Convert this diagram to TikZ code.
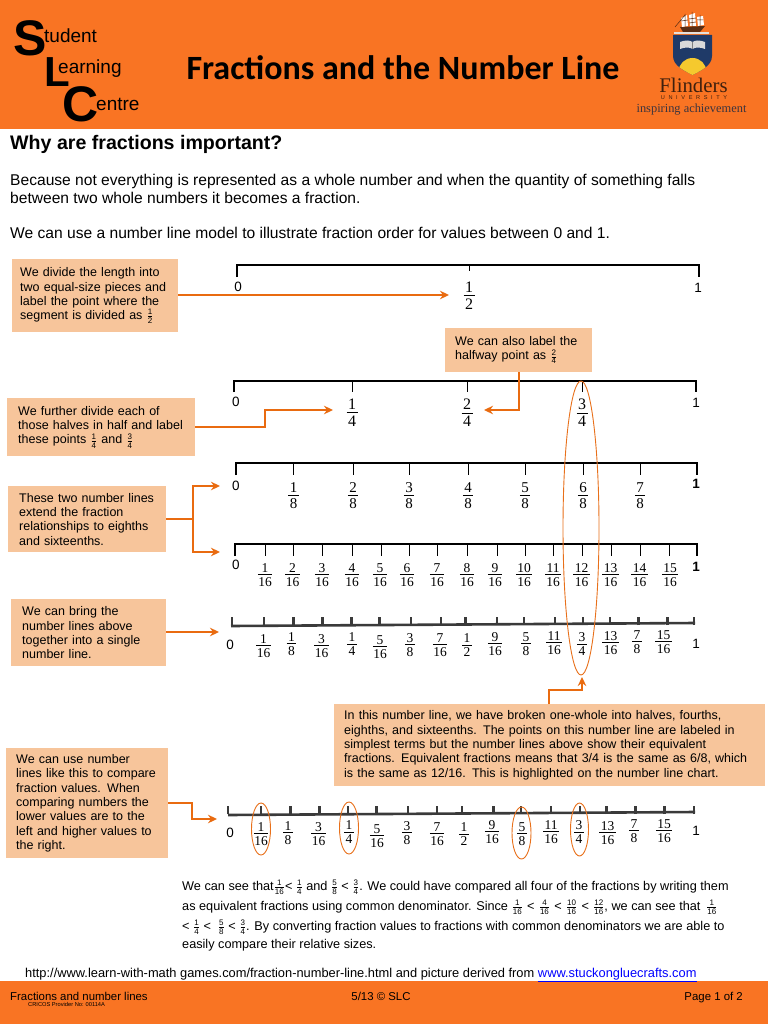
\documentclass[tikz,border=0pt]{standalone}
\usepackage{fontspec}
\usepackage{amsmath}
\setmainfont{Liberation Sans}
\newfontfamily\titlefont{Carlito}
\newfontfamily\crestfont{Liberation Serif}
\usetikzlibrary{arrows.meta,positioning,calc}
\definecolor{slcorange}{HTML}{F97423}
\definecolor{peach}{HTML}{F7C59B}
\definecolor{arroworange}{HTML}{E96B10}
\definecolor{ringorange}{HTML}{E8701A}
\definecolor{crestnavy}{HTML}{1F3A68}
\definecolor{crestgold}{HTML}{F5C92E}
\definecolor{crestbrown}{HTML}{5A2E14}
\definecolor{bk80}{HTML}{3A3A3A}
\newcommand{\frc}[2]{$\genfrac{}{}{0.7pt}{1}{\rule[-0.12em]{0pt}{0.7em}\hbox{\crestfont\kern1.5pt#1\kern1.5pt}}{\rule{0pt}{0.8em}\hbox{\crestfont\kern0.5pt#2\kern0.5pt}}$}
\newcommand{\sfr}[2]{$\genfrac{}{}{0.45pt}{1}{\hbox{\fontsize{8}{8}\selectfont#1}}{\hbox{\fontsize{8}{8}\selectfont#2}}$}
\tikzset{
  infobox/.style={
    rectangle, fill=peach, anchor=north west,
    inner xsep=8pt, inner ysep=2pt, align=left,
    font=\fontsize{12.5}{14.3}\selectfont
  },
  linkarrow/.style={
    -{Stealth[length=9pt,width=8.5pt]}, line width=2.6pt, color=arroworange
  },
  linkplain/.style={line width=2.6pt, color=arroworange},
  numline/.style={line width=#1, color=black},
  numline/.default=1.6pt,
  tickmark/.style={line width=0.9pt, color=black},
  heavyline/.style={line width=2.6pt, color=bk80},
  heavytick/.style={line width=2.2pt, color=bk80},
  fraclabel/.style={inner sep=0pt, font=\fontsize{#1}{#1}\selectfont},
  fraclabel/.default=13.5,
  endlabel/.style={inner sep=0pt, font=\fontsize{13.5}{13.5}\selectfont},
  bodytext/.style={inner sep=0pt, anchor=west, font=\fontsize{15.6}{18}\selectfont, align=left},
  notetext/.style={inner sep=0pt, anchor=west, font=\fontsize{12.7}{14}\selectfont},
  foottext/.style={inner sep=0pt, font=\fontsize{11.4}{13}\selectfont},
  slcbig/.style={inner sep=0pt, anchor=base west, font=\fontsize{#1}{#1}\selectfont\bfseries},
  slcsmall/.style={inner sep=0pt, anchor=base west, font=\fontsize{19}{20}\selectfont},
}
\begin{document}
\begin{tikzpicture}[x=1pt, y=-1pt]
  \useasboundingbox (0,0) rectangle (768,1024);
  \fill[white] (0,0) rectangle (768,1024);
  \fill[slcorange] (0,0) rectangle (768,129);
  \fill[slcorange] (0,981) rectangle (768,1024);

  % header
  \node[slcbig=50] (slcs) at (13,56) {S};
  \node[slcbig=42] (slcl) at (44,87) {L};
  \node[slcbig=50] (slcc) at (62,122) {C};
  \node[slcsmall] (tudent) at (44,43) {tudent};
  \node[slcsmall] (earning) at (58,74) {earning};
  \node[slcsmall] (entre) at (96,111) {entre};
  \node[inner sep=0pt, font=\titlefont\fontsize{34}{34}\selectfont\bfseries] (title) at (403,68) {Fractions and the Number Line};

  % crest
  \fill[crestbrown] (680,27) -- (705,26) -- (700,32) -- (683,32) -- cycle;
  \fill[white] (681,18) -- (687,15) -- (688,26) -- (682,27) -- cycle;
  \fill[white] (689,15) -- (695,13) -- (696,26) -- (690,26) -- cycle;
  \fill[white] (697,17) -- (703,16) -- (704,25) -- (698,26) -- cycle;
  \draw[crestbrown, line width=0.5pt] (685,14) -- (685,27) (692,12) -- (692,27) (700,15) -- (700,26) (675,27) -- (685,15)
    (681,21) -- (688,20) (689,19) -- (696,18) (689,23) -- (696,22) (697,20) -- (703,20);
  \fill[white!85!crestbrown] (674,32) rectangle (709,34);
  \fill[crestnavy] (673,35) -- (712,35) -- (712,56) .. controls (712,66) and (700,71) .. (692.5,75) .. controls (685,71) and (673,66) .. (673,56) -- cycle;
  \begin{scope}
    \clip (673,35) -- (712,35) -- (712,56) .. controls (712,66) and (700,71) .. (692.5,75) .. controls (685,71) and (673,66) .. (673,56) -- cycle;
    \fill[crestgold] (692.5,72) circle (14);
    \foreach \a in {15,35,...,165} {
      \fill[crestgold] (692.5,68) ++(\a+6:14) -- ++(\a:9) -- (692.5,68) ++(\a-6:14) -- cycle;
    }
  \end{scope}
  \fill[white!85!black] (680,42) .. controls (685,40) and (690,40) .. (692.5,42) .. controls (695,40) and (700,40) .. (705,42) -- (705,49) .. controls (700,47) and (695,47) .. (692.5,49) .. controls (690,47) and (685,47) .. (680,49) -- cycle;
  \draw[black!50, line width=0.4pt] (692.5,42) -- (692.5,49);
  \node[inner sep=0pt, text=crestbrown!70!black, font=\crestfont\fontsize{20.8}{21}\selectfont] (flinders) at (693.5,85.5) {Flinders};
  \node[inner sep=0pt, text=crestbrown!70!black, font=\fontsize{5.6}{6}\selectfont\addfontfeature{LetterSpace=65}] (university) at (694,98) {UNIVERSITY};
  \node[inner sep=0pt, text=crestbrown!50!crestnavy, font=\crestfont\fontsize{12.4}{13}\selectfont] (inspiring) at (691.5,110) {inspiring achievement};

  % opening text
  \node[bodytext, font=\fontsize{19.6}{22}\selectfont\bfseries] (why) at (10,144) {Why are fractions important?};
  \node[bodytext] (because) at (10,189) {Because not everything is represented as a whole number and when the quantity of something falls\\between two whole numbers it becomes a fraction.};
  \node[bodytext] (model) at (10,233) {We can use a number line model to illustrate fraction order for values between 0 and 1.};

  % halves
  \draw[numline=2pt] (237,277) |- (699,265) -- (699,277);
  \draw[tickmark] (469,265) -- (469,271);
  \node[endlabel] (a0) at (238,287) {0};
  \node[endlabel] (a1) at (698,288) {1};
  \node[fraclabel=16] (half) at (469,295.5) {\frc{1}{2}};

  % fourths
  \draw[numline] (234,392) |- (696,381) -- (696,392);
  \foreach \x/\n in {352/1,467/2,582/3} {
    \draw[tickmark] (\x,381) -- (\x,392);
    \node[fraclabel=16] (q\n) at (\x,413) {\frc{\n}{4}};
  }
  \node[endlabel] (b0) at (236,402) {0};
  \node[endlabel] (b1) at (696,403) {1};

  % eighths
  \draw[numline] (236,475) |- (697,463) -- (697,475);
  \foreach \x/\n in {293.5/1,353/2,409/3,468/4,525/5,583/6,640/7} {
    \draw[tickmark] (\x,463) -- (\x,475);
    \node[fraclabel=15] (e\n) at (\x,496) {\frc{\n}{8}};
  }
  \node[endlabel] (c0) at (236,486) {0};
  \node[endlabel, font=\fontsize{13.5}{13.5}\selectfont\bfseries] (c1) at (696,484) {1};

  % sixteenths
  \draw[numline] (235,556) |- (697,544) -- (697,556);
  \foreach \x/\l/\n in {265.5/265/1,293.5/292.5/2,322.5/322/3,352/352/4,381/380/5,409/407/6,437.5/437/7,467/467/8,497/495/9,525/524/10,553.5/553/11,582.5/581.5/12,611.5/610.5/13,640/639.5/14,669/670/15} {
    \draw[tickmark] (\x,544) -- (\x,556);
    \node[fraclabel] (s\n) at (\l,575) {\frc{\n}{16}};
  }
  \node[endlabel] (d0) at (236,565) {0};
  \node[endlabel, font=\fontsize{13.5}{13.5}\selectfont\bfseries] (d1) at (696,567) {1};

  % single number line
  \draw[heavyline] (231,626) -- (695,623);
  \foreach \x in {232,264,293.5,322.5,351.5,379.5,411,441,465.5,497,524,555,583,610,638.5,667.5,694} {
    \draw[heavytick] (\x,625) -- (\x,617);
  }
  \foreach \x/\y/\n/\d in {263.5/646/1/16,291.5/644/1/8,321.5/646/3/16,352/644/1/4,380/647/5/16,410/645/3/8,440/645/7/16,467/645/1/2,495/644/9/16,526/644/5/8,554/643/11/16,582/644/3/4,610.5/643/13/16,637/642/7/8,663.5/642/15/16} {
    \node[fraclabel] (m\n\d) at (\x,\y) {\frc{\n}{\d}};
  }
  \node[endlabel] (f0) at (230,645) {0};
  \node[endlabel] (f1) at (696,644) {1};

  % comparing line
  \draw[heavyline] (228,815) -- (695,812);
  \foreach \x in {228,261,290.5,319.5,348,376.5,408,437,462,493.5,521,551,580,606.5,635.5,664.5,694} {
    \draw[heavytick] (\x,814) -- (\x,806);
  }
  \foreach \x/\y/\n/\d in {261/834/1/16,288/833/1/8,318.5/834/3/16,349/832/1/4,377/836/5/16,407/833/3/8,437/834/7/16,464/834/1/2,492/832/9/16,522/834/5/8,551/832/11/16,579/832/3/4,607.5/833/13/16,634/831/7/8,664/831/15/16} {
    \node[fraclabel] (g\n\d) at (\x,\y) {\frc{\n}{\d}};
  }
  \node[endlabel] (h0) at (230,833) {0};
  \node[endlabel] (h1) at (696,831) {1};

  % rings
  \draw[ringorange, line width=0.9pt] (581,528) ellipse (18 and 147);
  \draw[ringorange, line width=0.9pt] (261,829) ellipse (9.5 and 26);
  \draw[ringorange, line width=0.9pt] (349,828) ellipse (9.5 and 26);
  \draw[ringorange, line width=0.9pt] (521.5,833) ellipse (9.5 and 26);
  \draw[ringorange, line width=0.9pt] (579.5,829.5) ellipse (9 and 26.5);

  % boxes
  \node[infobox, minimum width=166, minimum height=73, text width=150] (boxhalf) at (12,259) {We divide the length into\\two equal-size pieces and\\label the point where the\\segment is divided as \sfr{1}{2}};
  \node[infobox, minimum width=147, minimum height=44, text width=127, inner xsep=10pt] (boxalso) at (445,328) {We can also label the\\halfway point as \sfr{2}{4}};
  \node[infobox, minimum width=188, minimum height=58, text width=166, inner xsep=11pt] (boxfurther) at (7,398) {We further divide each of\\those halves in half and label\\these points \sfr{1}{4} and \sfr{3}{4}};
  \node[infobox, minimum width=158, minimum height=66, text width=136, inner xsep=11pt] (boxtwo) at (8,486) {These two number lines\\extend the fraction\\relationships to eighths\\and sixteenths.};
  \node[infobox, minimum width=155, minimum height=67, text width=133, inner xsep=11pt] (boxbring) at (11,599) {We can bring the\\number lines above\\together into a single\\number line.};
  \node[infobox, minimum width=431, minimum height=82, text width=411, inner xsep=10pt] (boxbroken) at (334,704) {In this number line, we have broken one-whole into halves, fourths,\\eighths, and sixteenths. The points on this number line are labeled in\\simplest terms but the number lines above show their equivalent\\fractions. Equivalent fractions means that 3/4 is the same as 6/8, which\\is the same as 12/16. This is highlighted on the number line chart.};
  \node[infobox, minimum width=162, minimum height=110, text width=142, inner xsep=10pt] (boxcompare) at (6,748) {We can use number\\lines like this to compare\\fraction values. When\\comparing numbers the\\lower values are to the\\left and higher values to\\the right.};

  % connectors
  \coordinate (tiphalf) at (449,295);
  \coordinate (tipalso) at (484,410);
  \coordinate (tipfurther) at (333,410);
  \coordinate (kneefurther) at (265,427);
  \coordinate (tipeighth) at (220,486);
  \coordinate (tipsixteenth) at (220,552);
  \coordinate (tipbring) at (219,632);
  \coordinate (tipbroken) at (582,677);
  \coordinate (kneebroken) at (549,690);
  \coordinate (kneecompare) at (192,803);
  \coordinate (tipcompare) at (217,819);
  \coordinate (forktwo) at (193,519);
  \draw[linkarrow] (boxhalf.east |- tiphalf) -- (tiphalf);
  \draw[linkarrow] (boxalso.south -| 519,0) |- (tipalso);
  \draw[linkarrow] (boxfurther.east |- kneefurther) -- (kneefurther) |- (tipfurther);
  \draw[linkplain] (boxtwo.east |- forktwo) -- (forktwo);
  \draw[linkarrow] (forktwo) |- (tipeighth);
  \draw[linkarrow] (forktwo) |- (tipsixteenth);
  \draw[linkarrow] (boxbring.east |- tipbring) -- (tipbring);
  \draw[linkarrow] (boxbroken.north -| kneebroken) -- (kneebroken) -| (tipbroken);
  \draw[linkarrow] (boxcompare.east |- kneecompare) -- (kneecompare) |- (tipcompare);

  % closing text
  \node[notetext] (see1) at (182,887) {We can see that\sfr{1}{16}< \sfr{1}{4} and \sfr{5}{8} < \sfr{3}{4}. We could have compared all four of the fractions by writing them};
  \node[notetext] (see2) at (182,907) {as equivalent fractions using common denominator. Since \sfr{1}{16}\,\,<\,\,\sfr{4}{16}\,\,<\,\,\sfr{10}{16}\,\,<\,\,\sfr{12}{16}, we can see that \,\sfr{1}{16}};
  \node[notetext] (see3) at (182,927) {< \sfr{1}{4} <\ \ \sfr{5}{8} < \sfr{3}{4}. By converting fraction values to fractions with common denominators we are able to};
  \node[notetext] (see4) at (182,945) {easily compare their relative sizes.};
  \node[notetext, font=\fontsize{12.85}{15}\selectfont] (source) at (25,975) {http://www.learn-with-math games.com/fraction-number-line.html and picture derived from \textcolor{blue}{\underline{www.stuckongluecrafts.com}}};

  % footer
  \node[foottext, anchor=base west] (footl) at (10,1000) {Fractions and number lines};
  \node[foottext, anchor=base] (footm) at (381,1000) {5/13 © SLC};
  \node[foottext, anchor=base east] (footr) at (743,1000) {Page 1 of 2};
  \node[inner sep=0pt, anchor=west, font=\fontsize{5.7}{6}\selectfont] (cricos) at (28,1004) {CRICOS Provider No: 00114A};
\end{tikzpicture}
\end{document}
